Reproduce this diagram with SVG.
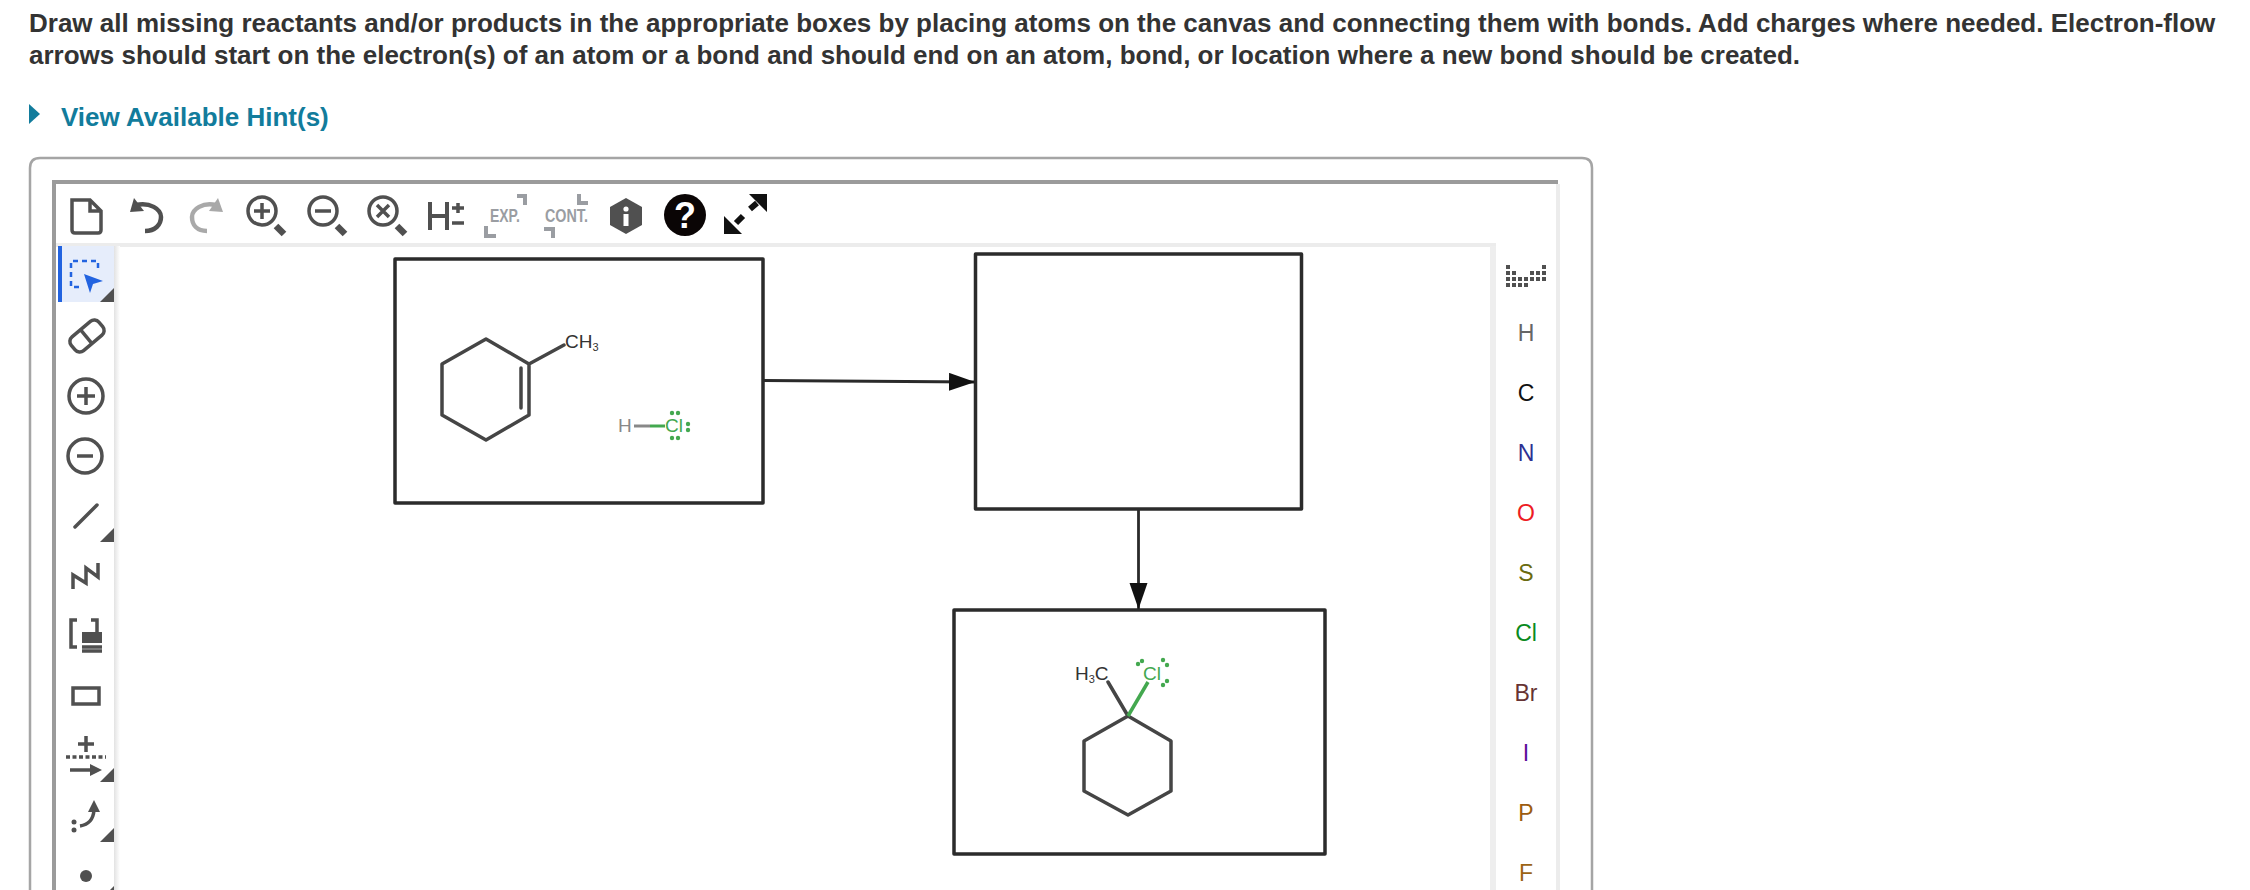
<svg xmlns="http://www.w3.org/2000/svg" width="2250" height="890" viewBox="0 0 2250 890">
<defs>
<style>
.q{font:bold 26px "Liberation Sans",Arial,sans-serif;fill:#333}
.hint{font:bold 26px "Liberation Sans",Arial,sans-serif;fill:#127c9c}
.ic{fill:none;stroke:#505050;stroke-width:3.5}
.fl{fill:#505050}
.bx{fill:none;stroke:#2b2b2b;stroke-width:3.5;stroke-linejoin:round}
.bd{fill:none;stroke:#454545;stroke-width:3.5;stroke-linejoin:round;stroke-linecap:round}
.at{font:19px "Liberation Sans",Arial,sans-serif;fill:#333}
.sub{font:11px "Liberation Sans",Arial,sans-serif;fill:#333}
.cl{font:19px "Liberation Sans",Arial,sans-serif;fill:#43a84f}
.d{fill:#43a84f}
.el{font:23px "Liberation Sans",Arial,sans-serif;text-anchor:middle}
.tb{font:bold 18px "Liberation Sans",Arial,sans-serif;fill:#9a9da2}
.gc{fill:none;stroke:#9a9da2;stroke-width:4}
.cn{fill:none;stroke:#2a2a2a;stroke-width:2.8}
</style>
<marker id="ah" markerUnits="userSpaceOnUse" markerWidth="30" markerHeight="20" refX="26" refY="9" orient="auto"><path d="M0 0L26 9L0 18Z" fill="#111"/></marker>
<g id="tri"><path d="M14 0V14H0Z" fill="#505050"/></g>
<linearGradient id="sh" x1="0" x2="1"><stop offset="0" stop-color="#e2e2e2"/><stop offset="1" stop-color="#fff"/></linearGradient>
</defs>
<rect width="2250" height="890" fill="#fff"/>
<g id="instructions">
<text class="q" x="29" y="32">Draw all missing reactants and/or products in the appropriate boxes by placing atoms on the canvas and connecting them with bonds. Add charges where needed. Electron-flow</text>
<text class="q" x="29" y="64">arrows should start on the electron(s) of an atom or a bond and should end on an atom, bond, or location where a new bond should be created.</text>
<path d="M29 104L40 114L29 124Z" fill="#127c9c"/>
<text class="hint" x="61" y="126">View Available Hint(s)</text>
</g>
<g id="frame">
<path d="M30 890V168Q30 158 40 158H1582Q1592 158 1592 168V890" fill="none" stroke="#a5a5a5" stroke-width="2.5"/>
<path d="M54 890V182H1558" fill="none" stroke="#9b9b9b" stroke-width="4"/>
<rect x="1556" y="184" width="4" height="706" fill="#ececec"/>
<rect x="56" y="243" width="1440" height="4" fill="#ececec"/>
<rect x="114" y="246" width="6" height="644" fill="url(#sh)"/>
<rect x="1490" y="246" width="6" height="644" fill="#eee"/>
</g>
<g id="toolbar">
<path class="ic" d="M72 200H90L101 211V230Q101 233 98 233H75Q72 233 72 230ZM90 200V211H101"/>
<path d="M145 231C155 231 161 225 161 217C161 209 150 202 136 205" fill="none" stroke="#505050" stroke-width="4.5"/><path class="fl" d="M130 212L134 198L144 211Z"/>
<path d="M207 231C197 231 192 225 192 217C192 209 203 202 216 205" fill="none" stroke="#a9a9a9" stroke-width="4.500"/><path d="M223 212L218 198L209 211Z" fill="#a9a9a9"/>
<g id="zoomin"><circle class="ic" cx="262" cy="211" r="14" stroke-width="3"/><path class="ic" d="M254 211H270M262 203V219" stroke-width="4"/><path d="M276 226L284 234" stroke="#505050" stroke-width="6.5"/></g>
<g id="zoomout"><circle class="ic" cx="323" cy="211" r="14" stroke-width="3"/><path class="ic" d="M315 211H331" stroke-width="4"/><path d="M337 226L345 234" stroke="#505050" stroke-width="6.5"/></g>
<g id="zoomreset"><circle class="ic" cx="383" cy="211" r="14" stroke-width="3"/><path class="ic" d="M377 205L389 217M389 205L377 217" stroke-width="4"/><path d="M397 226L405 234" stroke="#505050" stroke-width="6.5"/></g>
<path d="M430 202V230M447 202V230M430 216H447" fill="none" stroke="#505050" stroke-width="4"/>
<path d="M452 208H464M458 203V213M452 223H464" fill="none" stroke="#505050" stroke-width="3.5"/>
<text class="tb" x="490" y="222" textLength="30" lengthAdjust="spacingAndGlyphs">EXP.</text>
<path class="gc" d="M517 196H525V205M486 226V236H496"/>
<text class="tb" x="545" y="222" textLength="43" lengthAdjust="spacingAndGlyphs">CONT.</text>
<path class="gc" d="M579 194V203H588M544 229H553V238"/>
<path class="fl" d="M626 198L642 207V225L626 234L610 225V207Z"/><circle cx="626" cy="209" r="2.6" fill="#fff"/><rect x="623.500" y="214" width="5" height="12" fill="#fff"/>
<circle cx="685" cy="215" r="21" fill="#0a0505"/><text x="685" y="228" style="font:bold 36px 'Liberation Sans',sans-serif;fill:#fff;text-anchor:middle">?</text>
<path d="M736 223L743 216M750 209L757 203" stroke="#111" stroke-width="6" fill="none"/><path d="M749 194H767V212ZM724 216V234H742Z" fill="#111"/>
</g>
<g id="left-tools">
<rect x="58" y="246" width="56" height="56" fill="#e6edfb"/><rect x="58" y="246" width="4" height="56" fill="#2263e0"/>
<path d="M98 268V261H71V287H80" fill="none" stroke="#2263e0" stroke-width="2.500" stroke-dasharray="5 4"/>
<path d="M84 274L103 281L93 284L90 293Z" fill="#2263e0"/>
<use href="#tri" x="100" y="288"/>
<g transform="rotate(-40 87 336)"><rect x="69" y="327" width="36" height="18" rx="6" class="ic"/><path class="ic" d="M86 327V345" stroke-width="2"/></g>
<circle class="ic" cx="86" cy="396" r="17"/><path class="ic" d="M77 396H95M86 387V405" stroke-width="5"/>
<circle class="ic" cx="85" cy="456" r="17"/><path class="ic" d="M77 456H93" stroke-width="5"/>
<path class="ic" d="M75 527L97 505" stroke-linecap="round"/><use href="#tri" x="100" y="528"/>
<path class="ic" d="M73 589V575L86 583V568L98 577V563" stroke-width="2"/>
<path class="ic" d="M77 620H71V647H77"/><path class="ic" d="M91 620H97V635"/><rect class="fl" x="82" y="632" width="20" height="11"/><path class="ic" d="M82 647H102M82 651H102" stroke-width="1.6"/>
<rect class="ic" x="73" y="688" width="26" height="16" stroke-width="4"/>
<path class="ic" d="M78 744H94M86 736V752" stroke-width="4"/><path class="ic" d="M66 757H106" stroke-width="1.6" stroke-dasharray="4 2.5"/>
<path class="ic" d="M70 770H92" stroke-width="4"/><path class="fl" d="M90 764L102 770L90 776Z"/><use href="#tri" x="100" y="768"/>
<circle class="fl" cx="74" cy="822" r="2.5"/><circle class="fl" cx="74" cy="830" r="2.5"/>
<path class="ic" d="M80 826Q93 824 94 810" stroke-width="2.5"/><path class="fl" d="M94 800L100 812H88Z"/><use href="#tri" x="100" y="828"/>
<circle class="fl" cx="86" cy="876" r="6"/>
<path class="fl" d="M114 886V890H110Z"/>
</g>
<g id="right-palette">
<g class="fl"><path d="M1506 265h4v4h-4zM1506 271h4v4h-4zM1512 271h4v4h-4zM1506 277h4v4h-4zM1512 277h4v4h-4zM1518 277h4v4h-4zM1524 277h4v4h-4zM1530 277h4v4h-4zM1536 277h4v4h-4zM1542 277h4v4h-4zM1530 271h4v4h-4zM1536 271h4v4h-4zM1542 271h4v4h-4zM1542 265h4v4h-4zM1506 283h4v4h-4zM1512 283h4v4h-4zM1518 283h4v4h-4zM1524 283h4v4h-4z"/></g>
<text class="el" x="1526" y="341" fill="#666">H</text>
<text class="el" x="1526" y="401" fill="#111">C</text>
<text class="el" x="1526" y="461" fill="#2e3192">N</text>
<text class="el" x="1526" y="521" fill="#ed1c24">O</text>
<text class="el" x="1526" y="581" fill="#6b6b10">S</text>
<text class="el" x="1526" y="641" fill="#0a8a1e">Cl</text>
<text class="el" x="1526" y="701" fill="#663333">Br</text>
<text class="el" x="1526" y="761" fill="#5c0d9a">I</text>
<text class="el" x="1526" y="821" fill="#9c5c10">P</text>
<text class="el" x="1526" y="881" fill="#9c6414">F</text>
</g>
<g id="box-reactants">
<rect class="bx" x="395" y="259" width="368" height="244"/>
<path class="bd" d="M486 339L529 364V415L486 440L442 415V364ZM521 368V408M529 364L564 345"/>
<text class="at" x="565" y="348">CH<tspan class="sub" dy="3">3</tspan></text>
<text x="618" y="432" style="font:19px 'Liberation Sans',sans-serif;fill:#888">H</text>
<path d="M634 426H650" stroke="#888" stroke-width="3"/><path d="M650 426H665" stroke="#43a84f" stroke-width="3"/>
<text class="cl" x="665" y="432">Cl</text>
<circle class="d" cx="672" cy="413" r="2.2"/><circle class="d" cx="678" cy="413" r="2.2"/><circle class="d" cx="672" cy="438" r="2.2"/><circle class="d" cx="678" cy="438" r="2.2"/><circle class="d" cx="688" cy="424" r="2.2"/><circle class="d" cx="688" cy="430" r="2.2"/>
</g>
<g id="box-intermediate"><rect class="bx" x="975.500" y="254" width="326" height="255"/></g>
<g id="box-product">
<rect class="bx" x="954" y="610" width="371" height="244"/>
<path class="bd" d="M1128 716L1171 741V791L1128 815L1084 791V741ZM1128 716L1108 682"/>
<path d="M1128 716L1148 682" stroke="#43a84f" stroke-width="3.5" fill="none"/>
<text class="at" x="1075" y="680">H<tspan class="sub" dy="3">3</tspan><tspan dy="-3">C</tspan></text>
<text class="cl" x="1143" y="680">Cl</text>
<circle class="d" cx="1138" cy="664" r="2.2"/><circle class="d" cx="1142" cy="661" r="2.2"/><circle class="d" cx="1163" cy="660" r="2.2"/><circle class="d" cx="1167" cy="665" r="2.2"/><circle class="d" cx="1167" cy="681" r="2.2"/><circle class="d" cx="1163" cy="685" r="2.2"/>
</g>
<g id="connectors">
<path class="cn" d="M764 380.500L975 382" marker-end="url(#ah)"/>
<path class="cn" d="M1138.500 510V609" marker-end="url(#ah)"/>
</g>
</svg>
